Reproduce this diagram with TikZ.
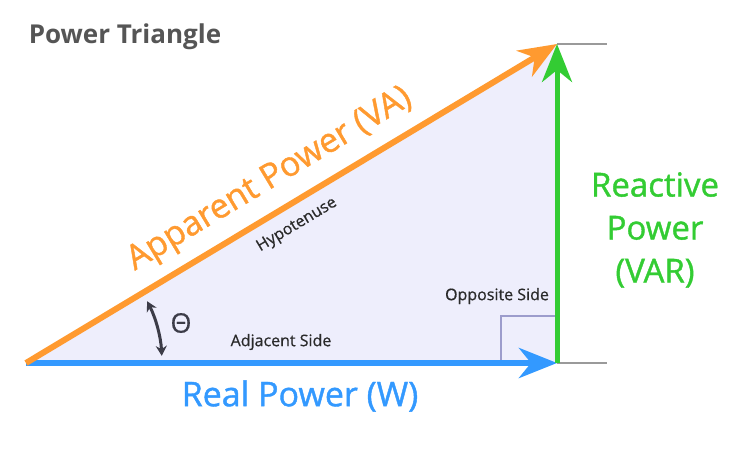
\documentclass[tikz,border=0pt]{standalone}
\usepackage{fontspec}
\setmainfont{Open Sans}
\newfontfamily\heavyfont[FakeBold=1.2]{Open Sans}
\newfontfamily\midfont[FakeBold=0.6]{Open Sans}
\usetikzlibrary{arrows.meta}
\definecolor{orng}{HTML}{FF9A30}
\definecolor{blu}{HTML}{3399FF}
\definecolor{grn}{HTML}{33CC33}
\definecolor{trifill}{HTML}{EEEEFC}
\definecolor{boxc}{HTML}{9C9CCC}
\definecolor{tickc}{HTML}{9A9A9A}
\definecolor{darktxt}{HTML}{2A2A2A}
\definecolor{titletxt}{HTML}{555555}
\definecolor{thetac}{HTML}{3C3C48}
\tikzset{
  bigtip/.style={-{Stealth[length=38pt,width=30pt,inset=12pt]}},
  bigtxt/.style={font=\heavyfont\fontsize{34}{40}\selectfont},
  smalltxt/.style={font=\midfont\fontsize{16}{19}\selectfont, text=darktxt},
  tickline/.style={draw=tickc, line width=2.5pt},
}
\begin{document}
\begin{tikzpicture}[x=1pt,y=-1pt]
\useasboundingbox (0,0) rectangle (752,450);
\coordinate (O) at (26,363);
\coordinate (T) at (557,44);
\coordinate (R) at (557,363);
\coordinate (TT) at (607,44);
\coordinate (RT) at (607,363);
\coordinate (B1) at (501,363);
\coordinate (B2) at (501,316);
\coordinate (B3) at (557,316);
% triangle fill
\fill[trifill] (O) -- (T) -- (R) -- cycle;
% right angle box
\draw[boxc, line width=2pt] (B1) -- (B2) -- (B3);
% gray ticks
\draw[tickline] (T) -- (TT);
\draw[tickline] (R) -- (RT);
% blue real power
\draw[blu, line width=6pt, bigtip] (O) -- (R);
% orange apparent power
\draw[orng, line width=6pt, bigtip] (O) -- (T);
% green reactive power
\draw[grn, line width=5pt, bigtip] (R) -- (T);
% theta arrow
\draw[thetac, line width=3pt, {Stealth[length=10pt,width=11pt]}-{Stealth[length=10pt,width=11pt]}]
  ([shift={(-27:136)}]O) arc[start angle=-27, end angle=-3, radius=136];
\node[font=\midfont\fontsize{27}{30}\selectfont, text=thetac] (theta) at (181,323) {Θ};
% labels
\node[font=\bfseries\fontsize{26}{30}\selectfont, text=titletxt] (title) at (125,37) {Power Triangle};
\node[bigtxt, text=orng, rotate=31] (app) at (270,180) {Apparent Power (VA)};
\node[smalltxt, rotate=31] (hyp) at (297,225) {Hypotenuse};
\node[smalltxt] (adj) at (281,342) {Adjacent Side};
\node[smalltxt] (opp) at (497,296) {Opposite Side};
\node[bigtxt, text=blu] (real) at (300,396) {Real Power (W)};
\node[text=grn, align=center, font=\heavyfont\fontsize{33}{43}\selectfont] (react) at (655,230) {Reactive\\Power\\(VAR)};
\end{tikzpicture}
\end{document}
